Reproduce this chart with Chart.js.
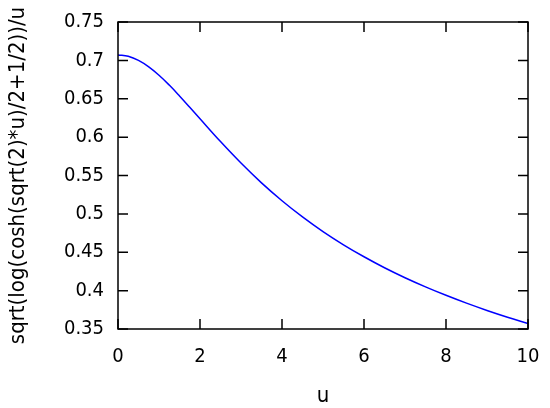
<!DOCTYPE html>
<html>
<head>
<meta charset="utf-8">
<script src="https://cdn.jsdelivr.net/npm/chart.js@4"></script>
<style>
  html, body { margin: 0; padding: 0; background: #fff; }
  canvas { display: block; }
</style>
</head>
<body>
<canvas id="c" width="550" height="408"></canvas>
<script>
const uValues = [0, 0.25, 0.5, 0.75, 1, 1.25, 1.5, 1.75, 2, 2.5, 3, 3.5, 4, 4.5, 5, 5.5, 6, 6.5, 7, 7.5, 8, 8.5, 9, 9.5, 10];
const fValues = [0.7071, 0.7053, 0.6999, 0.6915, 0.6806, 0.6678, 0.6537, 0.6389, 0.6239, 0.5942, 0.5662, 0.5404,
                 0.5171, 0.4960, 0.4769, 0.4597, 0.4441, 0.4298, 0.4168, 0.4049, 0.3939, 0.3837, 0.3742, 0.3654, 0.3572];
const xTicks = [0, 2, 4, 6, 8, 10];
const yTicks = [0.35, 0.4, 0.45, 0.5, 0.55, 0.6, 0.65, 0.7, 0.75];
const xTitle = 'u';
const yTitle = 'sqrt(log(cosh(sqrt(2)*u)/2+1/2))/u';

const FONT = '"DejaVu Sans Condensed", "DejaVu Sans", sans-serif';
const points = uValues.map((u, i) => ({ x: u, y: fValues[i] }));

const frame = {
  id: 'frame',
  afterDraw(chart) {
    const { ctx, chartArea: a, scales } = chart;
    const tl = 10;
    ctx.save();
    ctx.strokeStyle = '#000';
    ctx.lineWidth = 1.5;
    ctx.beginPath();
    xTicks.forEach(v => {
      const px = scales.x.getPixelForValue(v);
      ctx.moveTo(px, a.bottom); ctx.lineTo(px, a.bottom - tl);
      ctx.moveTo(px, a.top); ctx.lineTo(px, a.top + tl);
    });
    yTicks.forEach(v => {
      const py = scales.y.getPixelForValue(v);
      ctx.moveTo(a.left, py); ctx.lineTo(a.left + tl, py);
      ctx.moveTo(a.right, py); ctx.lineTo(a.right - tl, py);
    });
    ctx.stroke();
    ctx.strokeRect(a.left, a.top, a.right - a.left, a.bottom - a.top);
    ctx.restore();
  }
};

new Chart(document.getElementById('c'), {
  type: 'line',
  data: {
    datasets: [{
      data: points,
      borderColor: '#0000ff',
      borderWidth: 1.5,
      pointRadius: 0,
      fill: false,
      tension: 0.4
    }]
  },
  options: {
    responsive: false,
    animation: false,
    devicePixelRatio: 1,
    layout: { padding: { left: 0, right: 22, top: 22, bottom: 0 } },
    plugins: { legend: { display: false }, tooltip: { enabled: false } },
    scales: {
      x: {
        type: 'linear', min: 0, max: 10,
        afterFit(s) { s.height = 79; },
        afterBuildTicks(s) { s.ticks = xTicks.map(v => ({ value: v })); },
        grid: { display: false },
        border: { display: false },
        ticks: {
          padding: 8, color: '#000', maxRotation: 0, autoSkip: false,
          font: { family: FONT, size: 20 },
          callback: v => String(v)
        },
        title: {
          display: true, text: xTitle, color: '#000',
          font: { family: FONT, size: 22 },
          padding: { top: 0, bottom: -1 }
        }
      },
      y: {
        type: 'linear', min: 0.35, max: 0.75,
        afterFit(s) { s.width = 118; },
        afterBuildTicks(s) { s.ticks = yTicks.map(v => ({ value: v })); },
        grid: { display: false },
        border: { display: false },
        ticks: {
          padding: 6, color: '#000', autoSkip: false,
          font: { family: FONT, size: 20 },
          callback: v => String(Number(v.toFixed(2)))
        },
        title: {
          display: true, text: yTitle, color: '#000',
          font: { family: FONT, size: 22 },
          padding: { top: 5, bottom: 0 }
        }
      }
    }
  },
  plugins: [frame]
});
</script>
</body>
</html>
